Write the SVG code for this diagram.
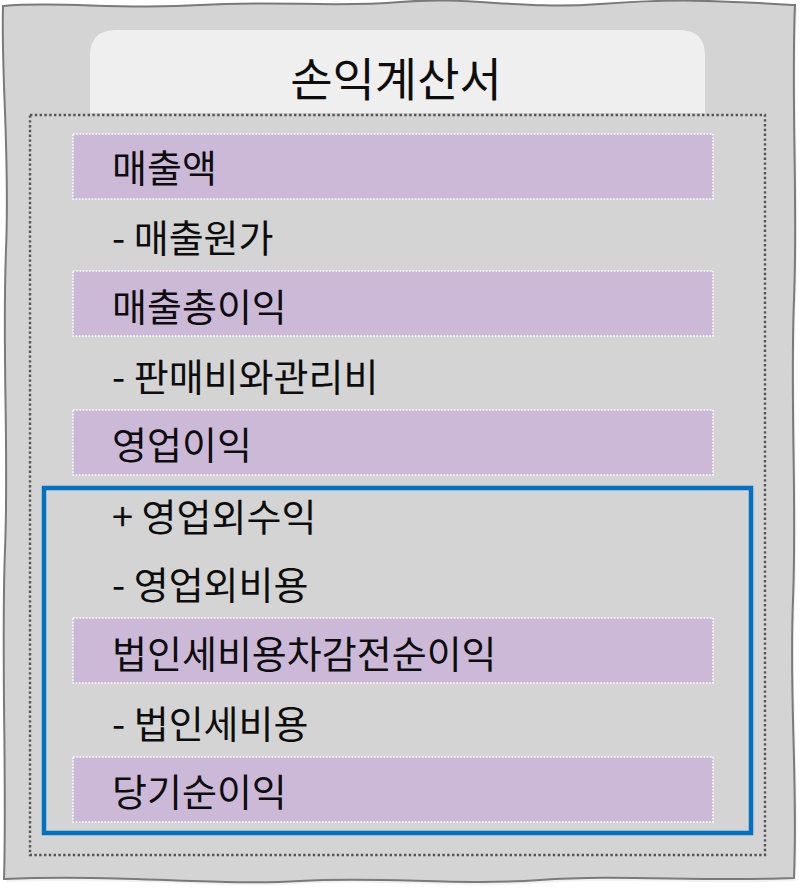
<svg xmlns="http://www.w3.org/2000/svg" width="800" height="888" viewBox="0 0 800 888">
<style>
.bar{fill:#cbb9d7;stroke:#ffffff;stroke-width:1.6;stroke-dasharray:1.6 1.6}
.t{font-family:"Noto Sans CJK KR","Noto Sans",sans-serif;font-size:38px;font-weight:400;fill:#0d0d0d}
.title{font-family:"Noto Sans CJK KR","Noto Sans",sans-serif;font-size:46px;font-weight:400;fill:#0d0d0d;text-anchor:middle}
</style>
<rect width="800" height="888" fill="#ffffff"/>
<g id="frame">
<path d="M 6 9 C 60 4, 120 13, 200 8 S 330 11, 400 5 S 520 13, 600 7 S 720 3, 797 8 C 793 100, 800 200, 796 300 S 799 500, 795 600 S 800 780, 796 881 C 700 885, 620 877, 540 883 S 380 879, 300 884 S 120 877, 6 882 C 9 780, 3 650, 7 550 S 4 350, 8 250 S 3 80, 6 9 Z" fill="#f2f2f2" stroke="none"/>
<path d="M 3 6 C 60 1, 120 10, 200 5 S 330 8, 400 2 S 520 10, 600 4 S 720 1, 795 5 C 791 100, 798 200, 794 300 S 797 500, 793 600 S 798 780, 794 878 C 700 882, 620 874, 540 880 S 380 876, 300 881 S 120 874, 4 879 C 7 780, 1 650, 5 550 S 2 350, 6 250 S 1 80, 3 6 Z" fill="#d4d4d4" stroke="#7a7a7a" stroke-width="2"/>
</g>
<g id="title">
<path d="M 90 113 L 90 56 Q 90 30 116 30 L 679 30 Q 705 30 705 56 L 705 113 Z" fill="#efefef"/>
<text class="title" x="396" y="96">손익계산서</text>
</g>
<g id="container">
<rect x="30" y="115" width="735" height="740" fill="none" stroke="#555555" stroke-width="2.4" stroke-dasharray="2.4 2.4"/>
</g>
<g id="nonop-box">
<rect x="44" y="488" width="707" height="345" fill="none" stroke="#0070c0" stroke-width="4.5"/>
</g>
<g id="n1"><rect class="bar" x="73" y="134" width="640" height="65"/><text class="t" x="112" y="182">매출액</text></g>
<g id="n2"><text class="t" x="112" y="252">- 매출원가</text></g>
<g id="n3"><rect class="bar" x="73" y="271" width="640" height="65"/><text class="t" x="112" y="321">매출총이익</text></g>
<g id="n4"><text class="t" x="112" y="391">- 판매비와관리비</text></g>
<g id="n5"><rect class="bar" x="73" y="410" width="640" height="65"/><text class="t" x="112" y="459">영업이익</text></g>
<g id="n6"><text class="t" x="112" y="531">+ 영업외수익</text></g>
<g id="n7"><text class="t" x="112" y="599">- 영업외비용</text></g>
<g id="n8"><rect class="bar" x="73" y="618" width="640" height="65"/><text class="t" x="112" y="668">법인세비용차감전순이익</text></g>
<g id="n9"><text class="t" x="112" y="738">- 법인세비용</text></g>
<g id="n10"><rect class="bar" x="73" y="757" width="640" height="65"/><text class="t" x="112" y="806">당기순이익</text></g>
<g id="connectors"></g>
</svg>
